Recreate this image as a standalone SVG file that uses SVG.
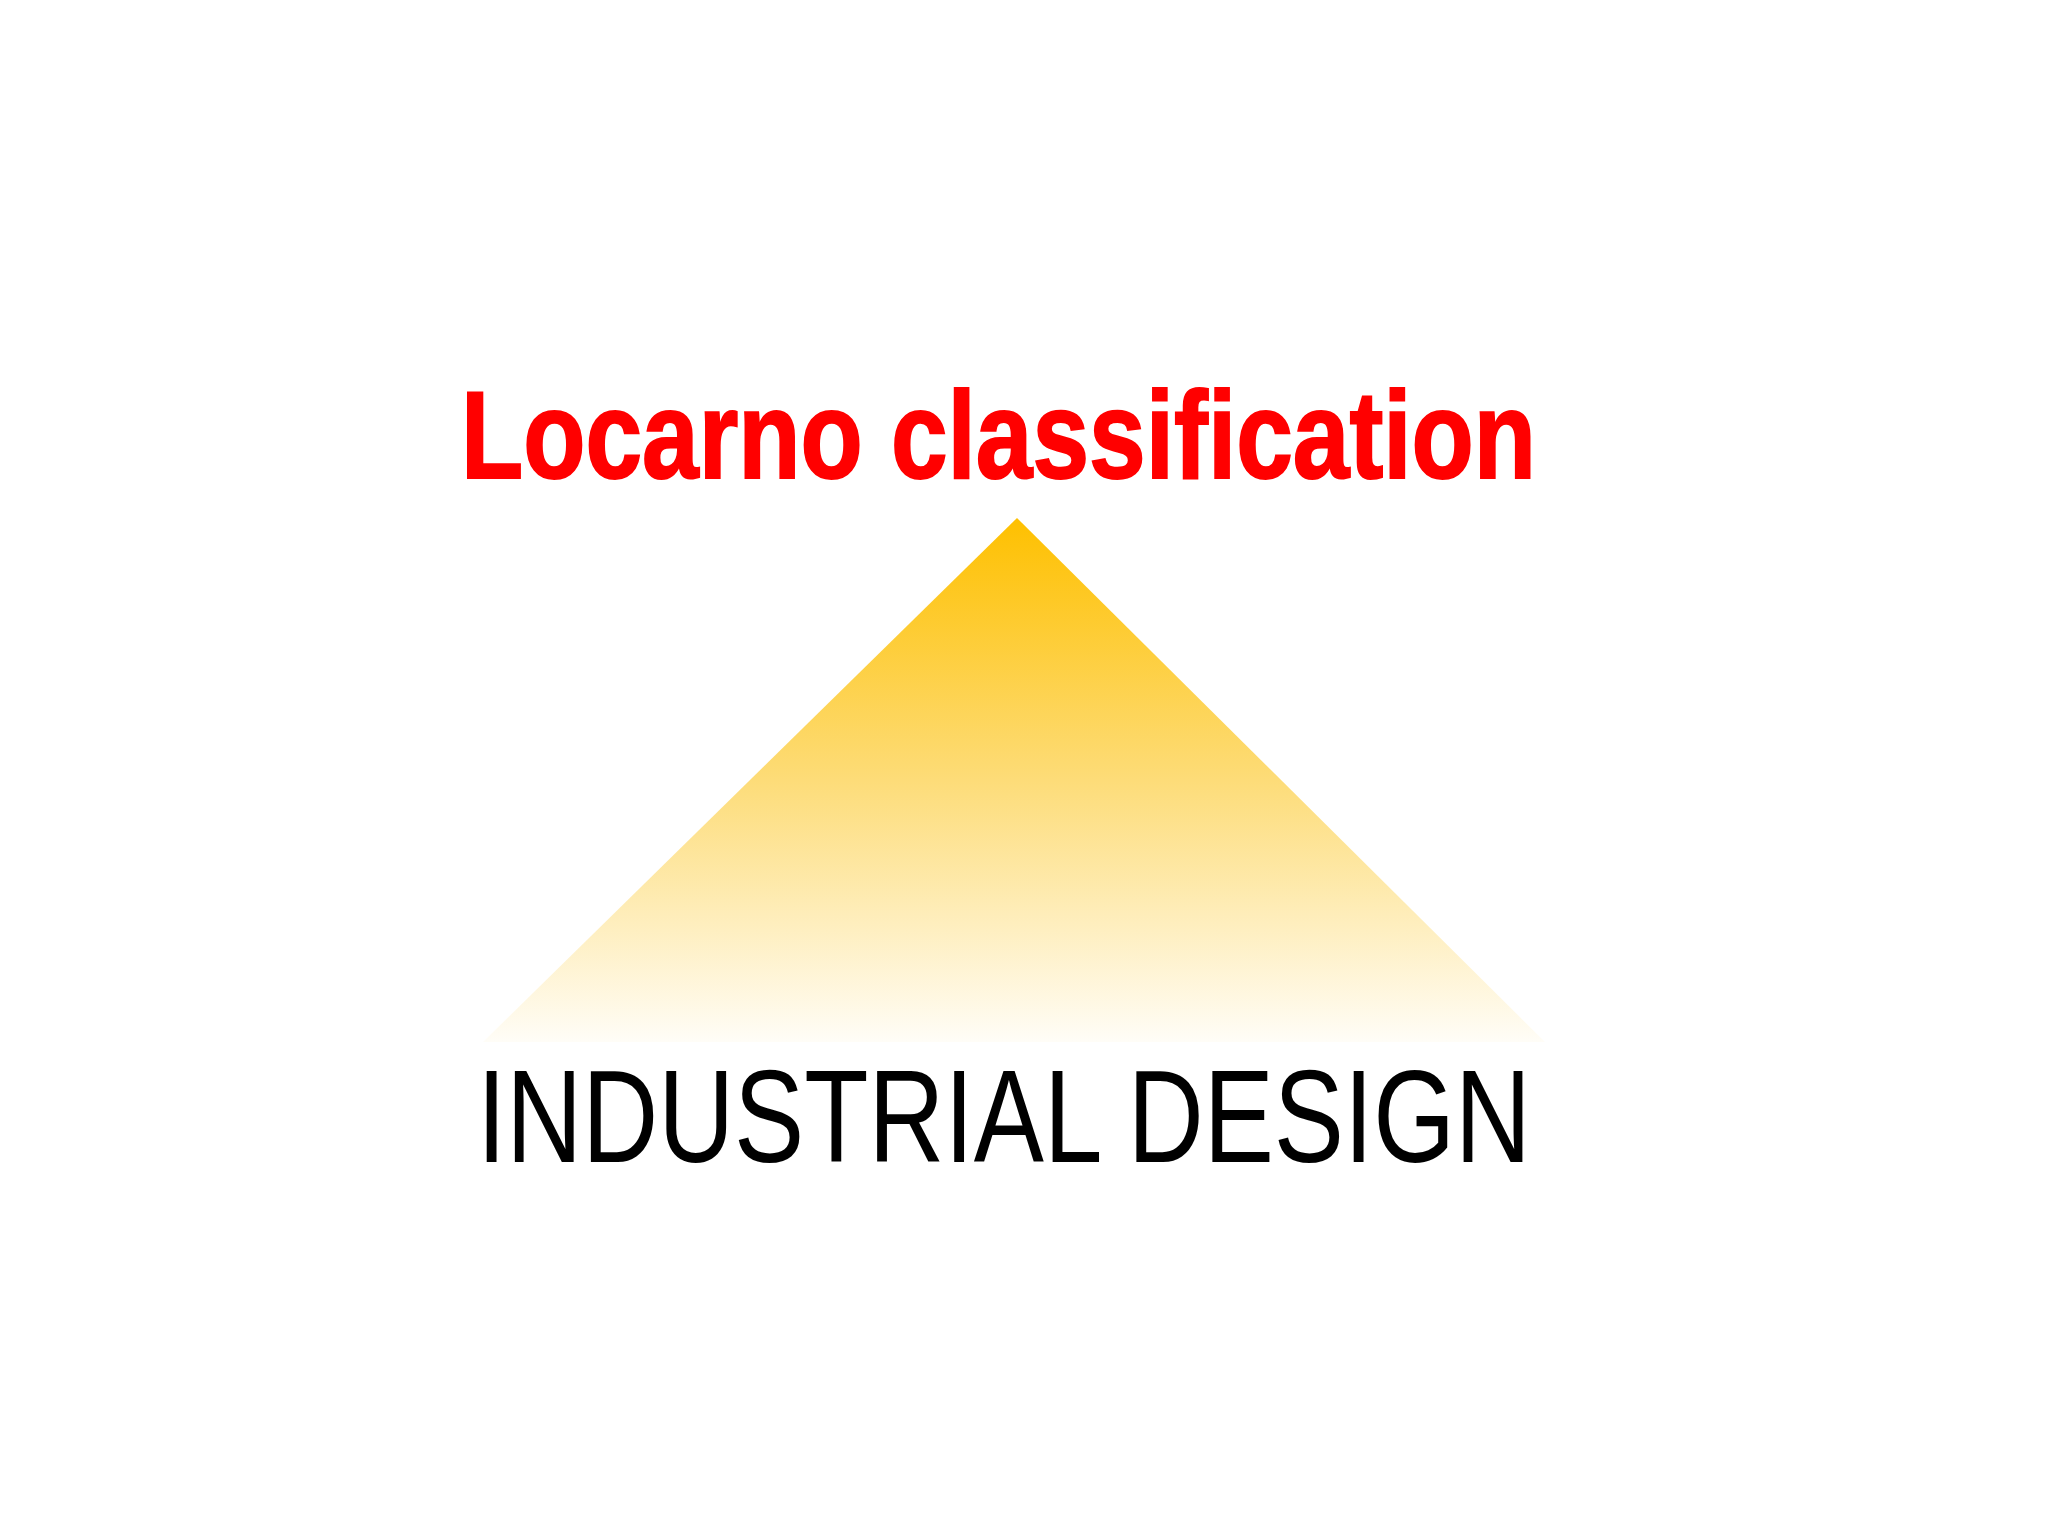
<svg xmlns="http://www.w3.org/2000/svg" width="2048" height="1536" viewBox="0 0 2048 1536">
  <defs>
    <linearGradient id="g" x1="0" y1="0" x2="0" y2="1">
      <stop offset="0" stop-color="#FEC000"/>
      <stop offset="0.5" stop-color="#FDDC78"/>
      <stop offset="1" stop-color="#FFFDF7"/>
    </linearGradient>
    <style>
      .title{font-family:"Liberation Sans",Arial,sans-serif;font-weight:bold;font-size:124px;fill:#FF0000;stroke:#FF0000;stroke-width:2px}
      .label{font-family:"Liberation Sans",Arial,sans-serif;font-size:132px;fill:#000000}
    </style>
  </defs>
  <rect width="2048" height="1536" fill="#FFFFFF"/>
  <g id="triangle">
    <polygon points="1017,518 1545,1042 483,1042" fill="url(#g)"/>
  </g>
  <g id="title">
    <text class="title" x="461" y="478" textLength="1075" lengthAdjust="spacingAndGlyphs">Locarno classification</text>
  </g>
  <g id="label">
    <text class="label" x="477" y="1162" textLength="1054" lengthAdjust="spacingAndGlyphs">INDUSTRIAL DESIGN</text>
  </g>
  <g id="connectors"/>
</svg>
